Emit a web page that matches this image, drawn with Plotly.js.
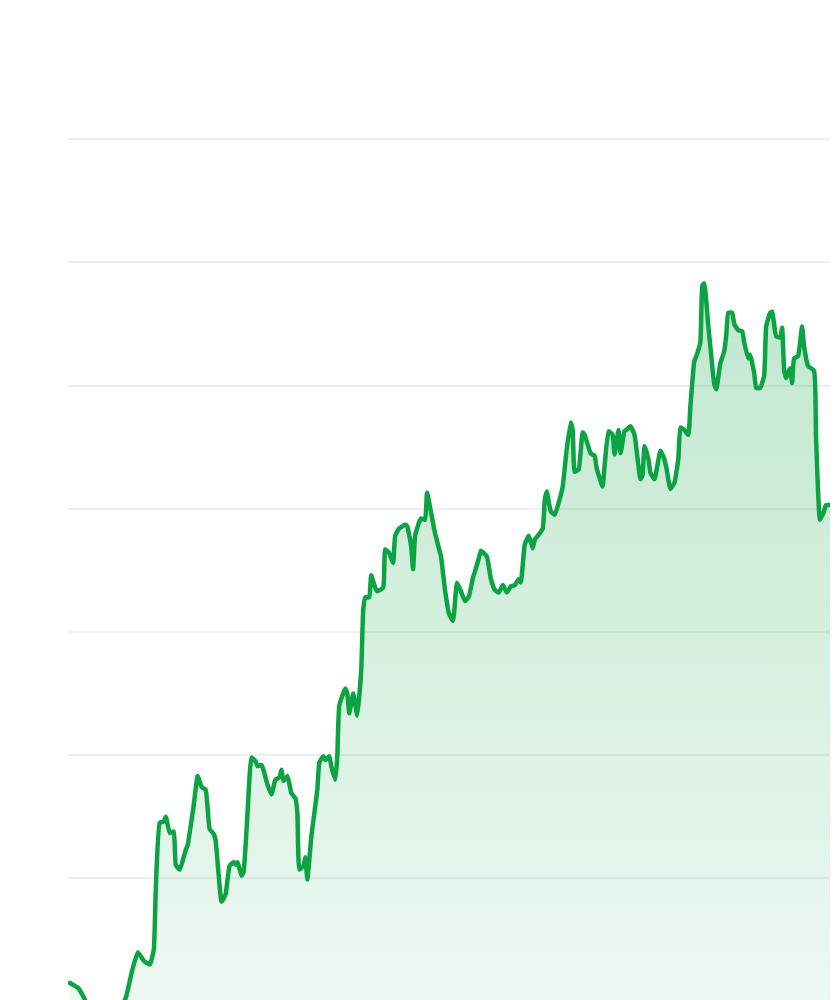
<!DOCTYPE html>
<html>
<head>
<meta charset="utf-8">
<script src="https://cdn.plot.ly/plotly-3.0.1.min.js"></script>
<style>
  html, body { margin: 0; padding: 0; background: #ffffff; overflow: hidden; }
  #chart { width: 834px; height: 1100px; }
  /* rounder corners on the price line, like the original */
  #chart .js-line { stroke-linejoin: round !important; stroke-linecap: round !important; }
</style>
</head>
<body>
<div id="chart"></div>
<script>
// trading day index and price
const days = [
  0, 4, 7, 11, 16, 21, 25, 28, 31, 34, 37, 40, 42, 43, 45, 47, 48, 50, 52, 53,
  55, 58, 59, 62, 64, 66, 68, 70, 72, 73, 76, 78, 80, 82, 83, 84, 86, 87, 89, 91,
  93, 94, 96, 97, 99, 101, 103, 105, 106, 107, 109, 111, 113, 114, 115, 117, 118, 119, 121, 124,
  125, 127, 128, 130, 131, 133, 134, 135, 138, 139, 140, 142, 144, 146, 147, 148, 150, 151, 153, 154,
  157, 158, 160, 162, 163, 165, 168, 169, 171, 172, 173, 175, 176, 178, 179, 181, 183, 186, 188, 190,
  192, 194, 196, 198, 200, 202, 203, 205, 206, 209, 211, 213, 215, 217, 219, 221, 223, 225, 226, 228,
  230, 232, 233, 235, 237, 238, 239, 241, 243, 245, 247, 249, 251, 252, 253, 255, 257, 258, 261, 263,
  264, 267, 268, 270, 272, 273, 275, 276, 278, 279, 281, 283, 284, 286, 287, 288, 290, 291, 293, 296,
  298, 299, 301, 303, 305, 306, 308, 310, 311, 313, 314, 316, 317, 318, 320, 321, 323, 324, 326, 328,
  329, 330, 332, 333, 335, 337, 338, 340, 341, 343, 344, 346, 348, 349, 351, 352, 354, 356, 357, 358,
  359, 361, 362, 363, 365, 367, 368, 370, 373, 374, 376, 378, 379, 381
];
const prices = [
  1.5, 1.1, 0.3, -1.1, -2.3, -1.9, -0.6, 0.3, 2.4, 4.0, 3.3, 3.0, 4.2, 9.1, 14.5, 14.6, 15.0, 13.7, 13.8, 11.1,
  10.7, 12.3, 12.7, 15.9, 18.3, 17.4, 17.2, 14.0, 13.6, 13.1, 8.1, 8.7, 11.0, 11.3, 11.1, 11.3, 10.2, 10.5, 15.3, 19.8,
  19.5, 19.1, 19.2, 18.8, 17.6, 16.8, 18.0, 18.2, 18.8, 17.9, 18.3, 16.9, 16.5, 15.3, 10.7, 11.0, 11.7, 9.9, 13.4, 17.2,
  19.4, 19.9, 19.6, 19.9, 19.1, 18.0, 19.9, 24.0, 25.4, 25.0, 23.4, 25.0, 23.2, 26.9, 31.8, 32.8, 32.8, 34.6, 33.6, 33.3,
  33.6, 36.7, 36.4, 35.6, 37.8, 38.4, 38.7, 38.6, 37.0, 35.1, 37.8, 38.9, 39.2, 39.1, 41.3, 39.7, 38.0, 36.1, 33.4, 31.5,
  30.9, 34.0, 33.3, 32.5, 32.9, 34.4, 34.9, 36.0, 36.6, 36.1, 34.3, 33.4, 33.2, 33.8, 33.2, 33.7, 33.8, 34.3, 34.0, 37.1,
  37.8, 36.8, 37.5, 37.9, 38.4, 40.7, 41.4, 39.8, 39.5, 40.5, 41.8, 44.8, 47.0, 46.4, 43.0, 43.2, 46.2, 46.0, 44.5, 44.3,
  43.3, 41.8, 43.5, 46.3, 46.0, 44.4, 46.4, 44.5, 46.3, 46.4, 46.7, 46.0, 44.8, 42.4, 42.7, 45.1, 44.0, 42.9, 42.4, 44.7,
  44.0, 43.3, 41.6, 42.1, 44.1, 46.6, 46.4, 46.0, 48.3, 52.0, 52.4, 53.5, 58.1, 58.3, 54.8, 53.2, 50.1, 49.7, 51.8, 52.8,
  54.1, 55.9, 55.9, 55.0, 54.5, 54.4, 53.5, 52.2, 52.5, 51.0, 49.8, 49.8, 50.8, 54.8, 55.9, 56.0, 54.0, 53.9, 54.7, 51.3,
  50.6, 51.4, 50.2, 52.2, 52.4, 54.8, 53.2, 51.6, 51.2, 45.8, 39.1, 39.8, 40.3, 40.3
];

const lineGreen = '#0ca443';

const trace = {
  x: days,
  y: prices,
  type: 'scatter',
  mode: 'lines',
  line: { color: lineGreen, width: 4.5, shape: 'spline', smoothing: 0.4 },
  fill: 'tozeroy',
  fillgradient: {
    type: 'vertical',
    start: -22,
    stop: 58,
    colorscale: [
      [0, 'rgba(12,164,67,0)'],
      [1, 'rgba(12,164,67,0.26)']
    ]
  },
  hoverinfo: 'skip'
};

const layout = {
  width: 834,
  height: 1100,
  margin: { l: 68, r: 4, t: 133, b: 0 },
  paper_bgcolor: '#ffffff',
  plot_bgcolor: '#ffffff',
  showlegend: false,
  xaxis: {
    range: [-1, 381],
    showgrid: false,
    zeroline: false,
    showline: false,
    showticklabels: false,
    ticks: ''
  },
  yaxis: {
    range: [-8, 70.5],
    tick0: 0,
    dtick: 10,
    showgrid: true,
    gridcolor: '#efefef',
    gridwidth: 2,
    zeroline: false,
    showline: false,
    showticklabels: false,
    ticks: ''
  }
};

Plotly.newPlot('chart', [trace], layout, { displayModeBar: false, staticPlot: true });
</script>
</body>
</html>
